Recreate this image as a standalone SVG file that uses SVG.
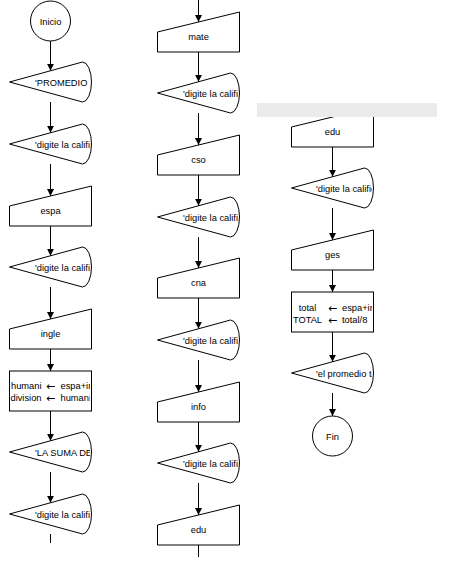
<svg xmlns="http://www.w3.org/2000/svg" width="474" height="561" viewBox="0 0 474 561">
<style>
.s{fill:#fff;stroke:#000;stroke-width:1}
.c{fill:none;stroke:#000;stroke-width:1}
text{font-family:"Liberation Sans",Arial,"DejaVu Sans",sans-serif;font-size:9.3px;fill:#000}
.m{text-anchor:middle}
.a{font-family:"DejaVu Sans",sans-serif;font-size:11px;text-anchor:middle}
</style>
<defs>
<marker id="ah" markerUnits="userSpaceOnUse" markerWidth="8" markerHeight="8" refX="7" refY="3.5" orient="auto">
<path d="M0,0 L7,3.5 L0,7 Z" fill="#000"/>
</marker>
<clipPath id="k1"><rect x="9" y="0" width="81" height="561"/></clipPath>
<clipPath id="k2"><rect x="157" y="0" width="81" height="561"/></clipPath>
<clipPath id="k3"><rect x="291" y="0" width="81" height="561"/></clipPath>
<clipPath id="kl1"><rect x="10" y="0" width="32" height="561"/></clipPath>
</defs>
<g id="connectors" class="c" marker-end="url(#ah)">
<line x1="50.5" y1="41" x2="50.5" y2="70.8"/>
<line x1="50.5" y1="102" x2="50.5" y2="132.8"/>
<line x1="50.5" y1="164" x2="50.5" y2="196"/>
<line x1="50.5" y1="226" x2="50.5" y2="255.8"/>
<line x1="50.5" y1="287" x2="50.5" y2="319"/>
<line x1="50.5" y1="349" x2="50.5" y2="371"/>
<line x1="50.5" y1="411" x2="50.5" y2="440.8"/>
<line x1="50.5" y1="472" x2="50.5" y2="502.8"/>
<line x1="50.5" y1="534" x2="50.5" y2="543" marker-end="none"/>
<line x1="198.5" y1="0" x2="198.5" y2="22"/>
<line x1="198.5" y1="52" x2="198.5" y2="81.8"/>
<line x1="198.5" y1="113" x2="198.5" y2="145"/>
<line x1="198.5" y1="175" x2="198.5" y2="205.8"/>
<line x1="198.5" y1="237" x2="198.5" y2="268"/>
<line x1="198.5" y1="298" x2="198.5" y2="328.8"/>
<line x1="198.5" y1="360" x2="198.5" y2="392"/>
<line x1="198.5" y1="422" x2="198.5" y2="451.8"/>
<line x1="198.5" y1="483" x2="198.5" y2="515"/>
<line x1="198.5" y1="545" x2="198.5" y2="557" marker-end="none"/>
<line x1="332.5" y1="147" x2="332.5" y2="176.8"/>
<line x1="332.5" y1="208" x2="332.5" y2="240"/>
<line x1="332.5" y1="270" x2="332.5" y2="292"/>
<line x1="332.5" y1="332" x2="332.5" y2="361.8"/>
<line x1="332.5" y1="393" x2="332.5" y2="416"/>
</g>
<!-- column 1 -->
<g id="inicio"><circle class="s" cx="50.5" cy="21" r="20"/><text class="m" x="50.5" y="24.5">Inicio</text></g>
<g id="d1"><path class="s" d="M9.5,82 L82.5,62 A9,20 0 0 1 82.5,102 Z"/><text x="35" y="85.5" clip-path="url(#k1)">'PROMEDIO D</text></g>
<g id="d2"><path class="s" d="M9.5,144 L82.5,124 A9,20 0 0 1 82.5,164 Z"/><text x="35" y="147.5" clip-path="url(#k1)">'digite la calific</text></g>
<g id="espa"><path class="s" d="M9.5,206 L91.5,186 L91.5,226 L9.5,226 Z"/><text class="m" x="50.5" y="214">espa</text></g>
<g id="d3"><path class="s" d="M9.5,267 L82.5,247 A9,20 0 0 1 82.5,287 Z"/><text x="35" y="270.5" clip-path="url(#k1)">'digite la calific</text></g>
<g id="ingle"><path class="s" d="M9.5,329 L91.5,309 L91.5,349 L9.5,349 Z"/><text class="m" x="50.5" y="337">ingle</text></g>
<g id="p1"><rect class="s" x="9.5" y="371" width="82" height="40"/>
<text x="11" y="389" clip-path="url(#kl1)">humani</text><text class="a" x="50.5" y="389.5">←</text><text x="60.5" y="389" clip-path="url(#k1)">espa+in</text>
<text class="m" x="26" y="401">division</text><text class="a" x="50.5" y="401.5">←</text><text x="60.5" y="401" clip-path="url(#k1)">humani</text></g>
<g id="d4"><path class="s" d="M9.5,452 L82.5,432 A9,20 0 0 1 82.5,472 Z"/><text x="35" y="455.5" clip-path="url(#k1)">'LA SUMA DE</text></g>
<g id="d5"><path class="s" d="M9.5,514 L82.5,494 A9,20 0 0 1 82.5,534 Z"/><text x="35" y="517.5" clip-path="url(#k1)">'digite la calific</text></g>
<!-- column 2 -->
<g id="mate"><path class="s" d="M157.5,32 L239.5,12 L239.5,52 L157.5,52 Z"/><text class="m" x="198.5" y="40">mate</text></g>
<g id="d6"><path class="s" d="M157.5,93 L230.5,73 A9,20 0 0 1 230.5,113 Z"/><text x="183" y="96.5" clip-path="url(#k2)">'digite la calific</text></g>
<g id="cso"><path class="s" d="M157.5,155 L239.5,135 L239.5,175 L157.5,175 Z"/><text class="m" x="198.5" y="163">cso</text></g>
<g id="d7"><path class="s" d="M157.5,217 L230.5,197 A9,20 0 0 1 230.5,237 Z"/><text x="183" y="220.5" clip-path="url(#k2)">'digite la calific</text></g>
<g id="cna"><path class="s" d="M157.5,278 L239.5,258 L239.5,298 L157.5,298 Z"/><text class="m" x="198.5" y="286">cna</text></g>
<g id="d8"><path class="s" d="M157.5,340 L230.5,320 A9,20 0 0 1 230.5,360 Z"/><text x="183" y="343.5" clip-path="url(#k2)">'digite la calific</text></g>
<g id="info"><path class="s" d="M157.5,402 L239.5,382 L239.5,422 L157.5,422 Z"/><text class="m" x="198.5" y="410">info</text></g>
<g id="d9"><path class="s" d="M157.5,463 L230.5,443 A9,20 0 0 1 230.5,483 Z"/><text x="183" y="466.5" clip-path="url(#k2)">'digite la calific</text></g>
<g id="edu"><path class="s" d="M157.5,525 L239.5,505 L239.5,545 L157.5,545 Z"/><text class="m" x="198.5" y="533">edu</text></g>
<!-- column 3 -->
<g id="edu2"><path class="s" d="M291.5,127 L373.5,107 L373.5,147 L291.5,147 Z"/><text class="m" x="332.5" y="135">edu</text></g>
<rect id="band" x="257" y="103" width="180" height="14" fill="#ebebeb"/>
<g id="d10"><path class="s" d="M291.5,188 L364.5,168 A9,20 0 0 1 364.5,208 Z"/><text x="316" y="191.5" clip-path="url(#k3)">'digite la calific</text></g>
<g id="ges"><path class="s" d="M291.5,250 L373.5,230 L373.5,270 L291.5,270 Z"/><text class="m" x="332.5" y="258">ges</text></g>
<g id="p2"><rect class="s" x="291.5" y="292" width="82" height="40"/>
<text class="m" x="307.5" y="311">total</text><text class="a" x="332.5" y="311.5">←</text><text x="342" y="311" clip-path="url(#k3)">espa+in</text>
<text class="m" x="307.5" y="323">TOTAL</text><text class="a" x="332.5" y="323.5">←</text><text x="342" y="323">total/8</text></g>
<g id="d11"><path class="s" d="M291.5,373 L364.5,353 A9,20 0 0 1 364.5,393 Z"/><text x="316" y="376.5" clip-path="url(#k3)">'el promedio to</text></g>
<g id="fin"><circle class="s" cx="332.5" cy="436" r="20"/><text class="m" x="332.5" y="439.5">Fin</text></g>
</svg>
